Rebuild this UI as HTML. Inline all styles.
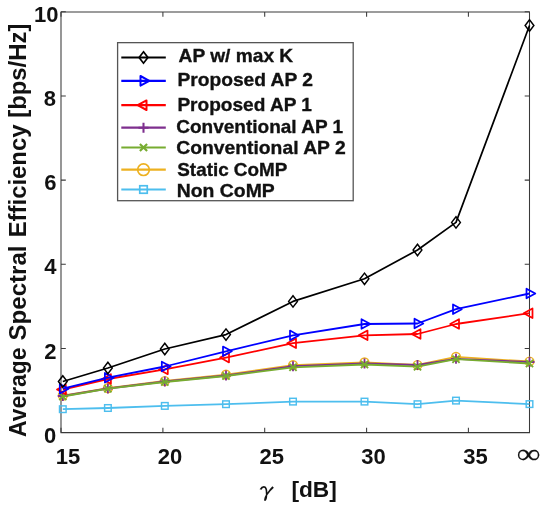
<!DOCTYPE html>
<html><head><meta charset="utf-8"><title>Average Spectral Efficiency</title><style>
html,body{margin:0;padding:0;background:#fff;width:550px;height:510px;overflow:hidden}
svg{display:block}
text{font-family:"Liberation Sans",Arial,sans-serif;font-weight:bold;fill:#111;stroke:#111;stroke-width:0.35px}
.tl{stroke:none}
.ser{font-family:"Liberation Serif","DejaVu Serif",serif;font-weight:normal;stroke-width:0.2px}
</style></head><body>
<svg width="550" height="510" viewBox="0 0 550 510">
<rect width="550" height="510" fill="#fff"/>
<path d="M61.0 12.0H529.5V432.6H61.0Z" fill="none" stroke="#3a3a3a" stroke-width="1.05"/>
<path d="M61.0 432.5h4.8M529.5 432.5h-4.8M61.0 348.4h4.8M529.5 348.4h-4.8M61.0 264.2h4.8M529.5 264.2h-4.8M61.0 180.1h4.8M529.5 180.1h-4.8M61.0 95.9h4.8M529.5 95.9h-4.8M61.0 11.8h4.8M529.5 11.8h-4.8M61.0 432.6v-4.8M61.0 12.0v4.8M162.9 432.6v-4.8M162.9 12.0v4.8M264.7 432.6v-4.8M264.7 12.0v4.8M366.6 432.6v-4.8M366.6 12.0v4.8M468.4 432.6v-4.8M468.4 12.0v4.8" stroke="#3a3a3a" stroke-width="1.05" fill="none"/>
<polyline points="62.8,409.2 107.9,408.0 164.8,405.9 226.0,404.2 293.0,401.6 364.5,401.6 417.5,404.2 456.0,400.6 529.5,404.1" fill="none" stroke="#4dbeee" stroke-width="1.8" stroke-linejoin="round"/>
<rect x="59.50" y="405.90" width="6.6" height="6.6" fill="none" stroke="#4dbeee" stroke-width="1.45"/>
<rect x="104.60" y="404.70" width="6.6" height="6.6" fill="none" stroke="#4dbeee" stroke-width="1.45"/>
<rect x="161.50" y="402.60" width="6.6" height="6.6" fill="none" stroke="#4dbeee" stroke-width="1.45"/>
<rect x="222.70" y="400.90" width="6.6" height="6.6" fill="none" stroke="#4dbeee" stroke-width="1.45"/>
<rect x="289.70" y="398.30" width="6.6" height="6.6" fill="none" stroke="#4dbeee" stroke-width="1.45"/>
<rect x="361.20" y="398.30" width="6.6" height="6.6" fill="none" stroke="#4dbeee" stroke-width="1.45"/>
<rect x="414.20" y="400.90" width="6.6" height="6.6" fill="none" stroke="#4dbeee" stroke-width="1.45"/>
<rect x="452.70" y="397.30" width="6.6" height="6.6" fill="none" stroke="#4dbeee" stroke-width="1.45"/>
<rect x="526.20" y="400.80" width="6.6" height="6.6" fill="none" stroke="#4dbeee" stroke-width="1.45"/>
<polyline points="62.8,395.6 107.9,388.2 164.8,381.0 226.0,374.6 293.0,365.1 364.5,362.3 417.5,365.0 456.0,356.9 529.5,361.5" fill="none" stroke="#edb120" stroke-width="1.8" stroke-linejoin="round"/>
<circle cx="62.8" cy="395.6" r="4.4" fill="none" stroke="#edb120" stroke-width="1.45"/>
<circle cx="107.9" cy="388.2" r="4.4" fill="none" stroke="#edb120" stroke-width="1.45"/>
<circle cx="164.8" cy="381.0" r="4.4" fill="none" stroke="#edb120" stroke-width="1.45"/>
<circle cx="226.0" cy="374.6" r="4.4" fill="none" stroke="#edb120" stroke-width="1.45"/>
<circle cx="293.0" cy="365.1" r="4.4" fill="none" stroke="#edb120" stroke-width="1.45"/>
<circle cx="364.5" cy="362.3" r="4.4" fill="none" stroke="#edb120" stroke-width="1.45"/>
<circle cx="417.5" cy="365.0" r="4.4" fill="none" stroke="#edb120" stroke-width="1.45"/>
<circle cx="456.0" cy="356.9" r="4.4" fill="none" stroke="#edb120" stroke-width="1.45"/>
<circle cx="529.5" cy="361.5" r="4.4" fill="none" stroke="#edb120" stroke-width="1.45"/>
<polyline points="62.8,396.0 107.9,388.5 164.8,381.5 226.0,375.5 293.0,366.2 364.5,363.5 417.5,365.0 456.0,358.8 529.5,362.0" fill="none" stroke="#7e2f8e" stroke-width="1.8" stroke-linejoin="round"/>
<path d="M62.8 391.0V401.0M57.8 396.0H67.8" stroke="#7e2f8e" stroke-width="1.7999999999999998"/>
<path d="M107.9 383.5V393.5M102.9 388.5H112.9" stroke="#7e2f8e" stroke-width="1.7999999999999998"/>
<path d="M164.8 376.5V386.5M159.8 381.5H169.8" stroke="#7e2f8e" stroke-width="1.7999999999999998"/>
<path d="M226.0 370.5V380.5M221.0 375.5H231.0" stroke="#7e2f8e" stroke-width="1.7999999999999998"/>
<path d="M293.0 361.2V371.2M288.0 366.2H298.0" stroke="#7e2f8e" stroke-width="1.7999999999999998"/>
<path d="M364.5 358.5V368.5M359.5 363.5H369.5" stroke="#7e2f8e" stroke-width="1.7999999999999998"/>
<path d="M417.5 360.0V370.0M412.5 365.0H422.5" stroke="#7e2f8e" stroke-width="1.7999999999999998"/>
<path d="M456.0 353.8V363.8M451.0 358.8H461.0" stroke="#7e2f8e" stroke-width="1.7999999999999998"/>
<path d="M529.5 357.0V367.0M524.5 362.0H534.5" stroke="#7e2f8e" stroke-width="1.7999999999999998"/>
<polyline points="62.8,396.5 107.9,388.7 164.8,382.0 226.0,376.0 293.0,367.3 364.5,364.5 417.5,366.7 456.0,359.2 529.5,363.5" fill="none" stroke="#77ac30" stroke-width="1.8" stroke-linejoin="round"/>
<path d="M59.2 392.9L66.4 400.1M59.2 400.1L66.4 392.9" stroke="#77ac30" stroke-width="1.9"/>
<path d="M104.3 385.1L111.5 392.3M104.3 392.3L111.5 385.1" stroke="#77ac30" stroke-width="1.9"/>
<path d="M161.2 378.4L168.4 385.6M161.2 385.6L168.4 378.4" stroke="#77ac30" stroke-width="1.9"/>
<path d="M222.4 372.4L229.6 379.6M222.4 379.6L229.6 372.4" stroke="#77ac30" stroke-width="1.9"/>
<path d="M289.4 363.7L296.6 370.9M289.4 370.9L296.6 363.7" stroke="#77ac30" stroke-width="1.9"/>
<path d="M360.9 360.9L368.1 368.1M360.9 368.1L368.1 360.9" stroke="#77ac30" stroke-width="1.9"/>
<path d="M413.9 363.1L421.1 370.3M413.9 370.3L421.1 363.1" stroke="#77ac30" stroke-width="1.9"/>
<path d="M452.4 355.6L459.6 362.8M452.4 362.8L459.6 355.6" stroke="#77ac30" stroke-width="1.9"/>
<path d="M525.9 359.9L533.1 367.1M525.9 367.1L533.1 359.9" stroke="#77ac30" stroke-width="1.9"/>
<polyline points="62.8,389.5 107.9,379.0 164.8,369.4 226.0,357.6 293.0,343.2 364.5,335.3 417.5,334.0 456.0,324.0 529.5,313.2" fill="none" stroke="#ff0000" stroke-width="1.8" stroke-linejoin="round"/>
<path d="M65.8 384.7L57.0 389.5L65.8 394.3Z" fill="none" stroke="#ff0000" stroke-width="1.75" stroke-linejoin="round"/>
<path d="M110.9 374.2L102.1 379.0L110.9 383.8Z" fill="none" stroke="#ff0000" stroke-width="1.75" stroke-linejoin="round"/>
<path d="M167.8 364.6L159.0 369.4L167.8 374.2Z" fill="none" stroke="#ff0000" stroke-width="1.75" stroke-linejoin="round"/>
<path d="M229.0 352.8L220.2 357.6L229.0 362.4Z" fill="none" stroke="#ff0000" stroke-width="1.75" stroke-linejoin="round"/>
<path d="M296.0 338.4L287.2 343.2L296.0 348.0Z" fill="none" stroke="#ff0000" stroke-width="1.75" stroke-linejoin="round"/>
<path d="M367.5 330.5L358.7 335.3L367.5 340.1Z" fill="none" stroke="#ff0000" stroke-width="1.75" stroke-linejoin="round"/>
<path d="M420.5 329.2L411.7 334.0L420.5 338.8Z" fill="none" stroke="#ff0000" stroke-width="1.75" stroke-linejoin="round"/>
<path d="M459.0 319.2L450.2 324.0L459.0 328.8Z" fill="none" stroke="#ff0000" stroke-width="1.75" stroke-linejoin="round"/>
<path d="M532.5 308.4L523.7 313.2L532.5 318.0Z" fill="none" stroke="#ff0000" stroke-width="1.75" stroke-linejoin="round"/>
<polyline points="62.8,388.7 107.9,377.7 164.8,366.5 226.0,351.3 293.0,335.4 364.5,324.0 417.5,323.5 456.0,309.2 529.5,293.5" fill="none" stroke="#0000ff" stroke-width="1.8" stroke-linejoin="round"/>
<path d="M59.8 383.9L68.6 388.7L59.8 393.5Z" fill="none" stroke="#0000ff" stroke-width="1.75" stroke-linejoin="round"/>
<path d="M104.9 372.9L113.7 377.7L104.9 382.5Z" fill="none" stroke="#0000ff" stroke-width="1.75" stroke-linejoin="round"/>
<path d="M161.8 361.7L170.6 366.5L161.8 371.3Z" fill="none" stroke="#0000ff" stroke-width="1.75" stroke-linejoin="round"/>
<path d="M223.0 346.5L231.8 351.3L223.0 356.1Z" fill="none" stroke="#0000ff" stroke-width="1.75" stroke-linejoin="round"/>
<path d="M290.0 330.6L298.8 335.4L290.0 340.2Z" fill="none" stroke="#0000ff" stroke-width="1.75" stroke-linejoin="round"/>
<path d="M361.5 319.2L370.3 324.0L361.5 328.8Z" fill="none" stroke="#0000ff" stroke-width="1.75" stroke-linejoin="round"/>
<path d="M414.5 318.7L423.3 323.5L414.5 328.3Z" fill="none" stroke="#0000ff" stroke-width="1.75" stroke-linejoin="round"/>
<path d="M453.0 304.4L461.8 309.2L453.0 314.0Z" fill="none" stroke="#0000ff" stroke-width="1.75" stroke-linejoin="round"/>
<path d="M526.5 288.7L535.3 293.5L526.5 298.3Z" fill="none" stroke="#0000ff" stroke-width="1.75" stroke-linejoin="round"/>
<polyline points="62.8,381.5 107.9,368.0 164.8,349.0 226.0,334.6 293.0,301.4 364.5,278.8 417.5,250.0 456.0,222.4 529.5,25.5" fill="none" stroke="#000000" stroke-width="1.7" stroke-linejoin="round"/>
<path d="M62.8 375.8L67.2 381.5L62.8 387.2L58.4 381.5Z" fill="none" stroke="#000000" stroke-width="1.45"/>
<path d="M107.9 362.3L112.3 368.0L107.9 373.7L103.5 368.0Z" fill="none" stroke="#000000" stroke-width="1.45"/>
<path d="M164.8 343.3L169.2 349.0L164.8 354.7L160.4 349.0Z" fill="none" stroke="#000000" stroke-width="1.45"/>
<path d="M226.0 328.9L230.4 334.6L226.0 340.3L221.6 334.6Z" fill="none" stroke="#000000" stroke-width="1.45"/>
<path d="M293.0 295.7L297.4 301.4L293.0 307.1L288.6 301.4Z" fill="none" stroke="#000000" stroke-width="1.45"/>
<path d="M364.5 273.1L368.9 278.8L364.5 284.5L360.1 278.8Z" fill="none" stroke="#000000" stroke-width="1.45"/>
<path d="M417.5 244.3L421.9 250.0L417.5 255.7L413.1 250.0Z" fill="none" stroke="#000000" stroke-width="1.45"/>
<path d="M456.0 216.7L460.4 222.4L456.0 228.1L451.6 222.4Z" fill="none" stroke="#000000" stroke-width="1.45"/>
<path d="M529.5 19.8L533.9 25.5L529.5 31.2L525.1 25.5Z" fill="none" stroke="#000000" stroke-width="1.45"/>
<text class="tl" x="56.3" y="442.7" font-size="22" text-anchor="end">0</text>
<text class="tl" x="56.6" y="358.6" font-size="22" text-anchor="end">2</text>
<text class="tl" x="56.4" y="274.4" font-size="22" text-anchor="end">4</text>
<text class="tl" x="56.6" y="190.3" font-size="22" text-anchor="end">6</text>
<text class="tl" x="55.9" y="106.1" font-size="22" text-anchor="end">8</text>
<text class="tl" x="58.5" y="22.2" font-size="22" text-anchor="end">10</text>
<text class="tl" x="68.0" y="463.8" font-size="22" text-anchor="middle">15</text>
<text class="tl" x="169.9" y="463.8" font-size="22" text-anchor="middle">20</text>
<text class="tl" x="271.7" y="463.8" font-size="22" text-anchor="middle">25</text>
<text class="tl" x="373.6" y="463.8" font-size="22" text-anchor="middle">30</text>
<text class="tl" x="475.4" y="463.8" font-size="22" text-anchor="middle">35</text>
<text class="ser" x="0" y="0" font-size="30" text-anchor="middle" transform="matrix(1.1 0 0 0.92 528.45 463.4)">&#8734;</text>
<text class="tl" x="26.2" y="436.9" font-size="23.5" transform="rotate(-90 26.2 436.9)" textLength="89.4" lengthAdjust="spacingAndGlyphs">Average</text>
<text class="tl" x="26.2" y="340.4" font-size="23.5" transform="rotate(-90 26.2 340.4)" textLength="94.9" lengthAdjust="spacingAndGlyphs">Spectral</text>
<text class="tl" x="26.2" y="237.3" font-size="23.5" transform="rotate(-90 26.2 237.3)" textLength="213.7" lengthAdjust="spacingAndGlyphs">Efficiency [bps/Hz]</text>
<text class="tl" x="254.8" y="498.9" font-size="24" style="font-family:IPAGothic,sans-serif;font-weight:normal">&#947;</text>
<text class="tl" x="291.4" y="496.5" font-size="22" textLength="45.4" lengthAdjust="spacingAndGlyphs">[dB]</text>
<rect x="117.6" y="42.65" width="235.6" height="158.05" fill="#fff" stroke="#555" stroke-width="1.3"/>
<line x1="121.3" y1="57.5" x2="165.8" y2="57.5" stroke="#000000" stroke-width="2.2"/>
<path d="M143.5 51.8L147.9 57.5L143.5 63.2L139.1 57.5Z" fill="none" stroke="#000000" stroke-width="1.7"/>
<text x="178.6" y="62.3" font-size="19" textLength="114.6" lengthAdjust="spacingAndGlyphs">AP w/ max K</text>
<line x1="121.3" y1="80.8" x2="165.8" y2="80.8" stroke="#0000ff" stroke-width="2.2"/>
<path d="M140.5 76.0L149.3 80.8L140.5 85.6Z" fill="none" stroke="#0000ff" stroke-width="2.0" stroke-linejoin="round"/>
<text x="177.4" y="86.3" font-size="19" textLength="135.6" lengthAdjust="spacingAndGlyphs">Proposed AP 2</text>
<line x1="121.3" y1="105.2" x2="165.8" y2="105.2" stroke="#ff0000" stroke-width="2.2"/>
<path d="M146.5 100.4L137.7 105.2L146.5 110.0Z" fill="none" stroke="#ff0000" stroke-width="2.0" stroke-linejoin="round"/>
<text x="177.4" y="111.4" font-size="19" textLength="134.6" lengthAdjust="spacingAndGlyphs">Proposed AP 1</text>
<line x1="121.3" y1="127.7" x2="165.8" y2="127.7" stroke="#7e2f8e" stroke-width="2.2"/>
<path d="M143.5 122.7V132.7M138.5 127.7H148.5" stroke="#7e2f8e" stroke-width="2.05"/>
<text x="176.3" y="132.6" font-size="19" textLength="166.8" lengthAdjust="spacingAndGlyphs">Conventional AP 1</text>
<line x1="121.3" y1="147.5" x2="165.8" y2="147.5" stroke="#77ac30" stroke-width="2.2"/>
<path d="M139.9 143.9L147.1 151.1M139.9 151.1L147.1 143.9" stroke="#77ac30" stroke-width="2.15"/>
<text x="176.3" y="153.8" font-size="19" textLength="169.4" lengthAdjust="spacingAndGlyphs">Conventional AP 2</text>
<line x1="121.3" y1="169.7" x2="165.8" y2="169.7" stroke="#edb120" stroke-width="2.2"/>
<circle cx="143.5" cy="169.7" r="5.8" fill="none" stroke="#edb120" stroke-width="1.7"/>
<text x="177.3" y="175.6" font-size="19" textLength="110.0" lengthAdjust="spacingAndGlyphs">Static CoMP</text>
<line x1="121.3" y1="189.5" x2="165.8" y2="189.5" stroke="#4dbeee" stroke-width="2.2"/>
<rect x="139.75" y="185.75" width="7.5" height="7.5" fill="none" stroke="#4dbeee" stroke-width="1.7"/>
<text x="176.8" y="197.3" font-size="19" textLength="97.9" lengthAdjust="spacingAndGlyphs">Non CoMP</text>
</svg></body></html>
